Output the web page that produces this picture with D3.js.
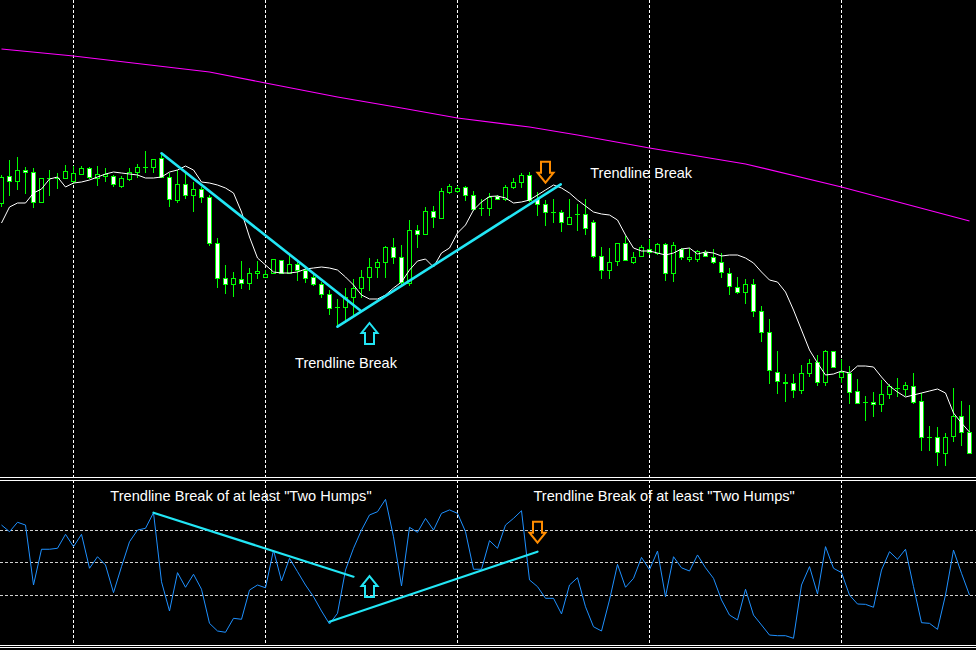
<!DOCTYPE html>
<html>
<head>
<meta charset="utf-8">
<script src="https://cdn.jsdelivr.net/npm/d3@7"></script>
<style>
html,body{margin:0;padding:0;background:#000;}
svg{display:block;}
</style>
</head>
<body>
<svg id="chart" width="976" height="650"></svg>
<script>
// ---- DATA ----
// candles: [open, high, low, close] (price points)
const candles = [
[297,325,294,323],[324,340,305,319],[319,343,311,330],[330,333,307,328],[328,332,293,298],
[298,322,298,322],[322,330,305,322],[322,327,312,322],[322,335,322,329],[319,334,317,327],
[326,334,326,332],[332,333,322,323],[322,334,315,326],[324,332,319,326],[324,325,314,316],
[314,324,313,322],[321,332,320,328],[328,336,323,333],[333,349,328,333],[333,341,328,341],
[342,347,323,323],[323,327,294,301],[300,330,298,316],[316,328,302,305],[305,318,289,311],
[311,313,298,303],[303,305,255,257],[257,262,213,222],[222,235,207,216],[216,228,204,222],
[221,239,212,217],[217,232,211,227],[227,239,222,229],[223,230,223,226],[227,241,227,241],
[240,240,227,227],[227,245,227,236],[236,240,220,230],[230,233,218,222],[223,227,215,216],
[216,218,203,206],[206,210,186,192],[193,201,173,193],[193,212,178,203],[203,221,185,212],
[212,230,203,223],[223,242,210,233],[233,241,223,238],[238,254,223,253],[253,262,237,243],
[243,255,215,218],[217,280,215,270],[270,275,253,266],[266,293,266,289],[289,294,273,283],
[282,312,282,309],[308,316,307,314],[309,314,308,312],[313,314,300,305],[305,309,290,291],
[292,301,285,292],[292,307,285,303],[304,305,301,301],[301,315,300,313],[313,322,312,318],
[318,327,313,325],[325,328,299,300],[301,308,285,296],[296,300,275,288],[288,301,278,288],
[288,290,269,278],[276,301,276,283],[286,296,270,286],[286,301,266,272],[278,280,243,244],
[244,253,222,230],[230,252,222,238],[239,257,235,257],[257,264,240,240],[238,248,237,243],
[244,255,244,253],[251,261,246,248],[247,257,246,256],[256,257,220,227],[227,258,219,255],
[251,252,241,243],[241,252,239,243],[241,250,239,249],[248,250,244,244],[243,251,237,238],
[238,247,223,228],[227,232,206,214],[213,223,207,208],[208,221,197,216],[216,221,184,189],
[189,194,159,168],[168,181,117,130],[128,149,107,119],[118,126,99,117],[117,126,103,110],
[110,135,107,127],[127,141,124,137],[138,145,115,118],[118,150,115,149],[149,149,133,133],
[123,141,118,128],[127,134,97,108],[109,121,97,97],[98,104,80,98],[98,108,84,96],
[96,120,89,106],[106,116,102,114],[112,122,104,112],[111,118,105,115],[114,127,97,98],
[99,107,50,63],[63,74,50,63],[63,73,35,48],[47,67,35,63],[64,112,59,84],
[84,99,55,68],[68,95,47,47]
];

// short moving average (white), one value per candle
const maShort = [
277,293,297,297,307,311,321,323,313,317,318,320,323,326,328,327,326,325,322,322,
323,328,330,334,330,318,317,315,312,307,288,263,242,235,228,227,227,228,231,232,
233,232,230,223,215,205,201,201,205,212,218,230,239,241,233,247,252,267,275,290,
298,303.5,304,302,297,298,300,305,310,315,312,307,300,294,288,286,285,280,265,252,
249,249,247,245,247,251,252,246,248,247,244,245,245,242,237,228,220,218,208,190,
170,150,137,125,126,129,127,134,134,133,123,114,108,103,105,107,109,111,107,87,
77,68
];

// long moving average (magenta), sampled [candle index, value]
const maLong = [
[0,451],[9,444],[26,428],[33,417],[42,403],[50,392],[57,382],[66,373],[72,365],
[81,352],[93,336],[105,313],[121,279]
];

// oscillator (0-100), one value per candle
const osc = [
72.9,68.8,74.6,72.9,36.0,58.0,58.0,58.6,67.2,59.6,67.2,46.3,53.4,48.3,31.3,47.3,62.6,69.8,70.9,80.5,
38.0,20.0,43.6,34.6,42.6,33.4,12.4,7.7,6.9,15.5,14.9,32.9,36.0,34.3,57.5,38.5,52.4,44.2,36.0,28.8,
20.0,12.0,18.6,45.2,58.6,69.8,79.1,81.1,88.7,65.7,35.4,71.5,68.4,77.0,69.8,80.1,82.2,80.1,68.8,45.7,
45.7,63.3,58.6,72.9,77.0,81.7,39.1,35.0,27.8,27.8,18.2,36.0,40.5,22.6,10.3,7.7,26.8,48.7,34.6,40.1,
53.0,45.4,56.9,28.8,53.4,46.6,44.6,54.5,46.6,40.1,26.8,17.5,14.5,33.4,17.5,11.4,5.2,4.8,4.8,3.2,
36.0,47.3,30.5,59.6,46.3,43.6,29.8,24.3,24.1,22.3,45.2,56.5,51.8,58.0,35.0,12.8,12.4,8.7,29.8,57.5,
43.2,29.8
];

const oscLevels = [30, 50, 70];
const gridIdx = [9, 33, 57, 81, 105];

// trendlines [index0, value0, index1, value1]
const priceTrendlines = [[20, 346.7, 44.9, 189.3], [42, 173.3, 69.9, 315.7]];
const oscTrendlines = [[19, 80.5, 44, 41.1], [41, 13.4, 67, 56.5]];

// arrows: index, value at arrow start (tail for down, tip for up), direction
const priceArrows = [{i: 46, v: 177, dir: "up", color: "#22e6f5"}, {i: 68, v: 338.3, dir: "down", color: "#ff8c00"}];
const oscArrows = [{i: 46, v: 41.5, dir: "up", color: "#22e6f5"}, {i: 67, v: 75.0, dir: "down", color: "#ff8c00"}];

// labels
const priceLabels = [{i: 36.7, v: 132, text: "Trendline Break"}, {i: 73.6, v: 322, text: "Trendline Break"}];
const oscLabels = [{i: 13.6, v: 87.4, text: "Trendline Break of at least \"Two Humps\""}, {i: 66.5, v: 87.4, text: "Trendline Break of at least \"Two Humps\""}];

// ---- DRAW ----
const svg = d3.select("#chart");
const W = 976, H = 650;
const upperBottom = 477, lowerTop = 480, lowerBottom = 645;

const x = d3.scaleLinear().domain([0, candles.length - 1]).range([1.5, 1.5 + 8 * (candles.length - 1)]);
const y = d3.scaleLinear().domain([0, 500]).range([500, 0]);
const yo = d3.scaleLinear().domain([0, 100]).range([643.5, 481]);

svg.append("rect").attr("width", W).attr("height", H).attr("fill", "#000");

const defs = svg.append("defs");
defs.append("clipPath").attr("id", "clipUp").append("rect").attr("x", 0).attr("y", 0).attr("width", W).attr("height", upperBottom);
defs.append("clipPath").attr("id", "clipLo").append("rect").attr("x", 0).attr("y", lowerTop + 1).attr("width", W).attr("height", lowerBottom - lowerTop - 1);

// vertical grid
svg.append("g").selectAll("line").data(gridIdx).join("line")
  .attr("x1", d => x(d)).attr("x2", d => x(d))
  .attr("y1", 0).attr("y2", lowerBottom)
  .attr("stroke", "#ffffff").attr("stroke-width", 1)
  .attr("stroke-dasharray", "3,2").attr("shape-rendering", "crispEdges");

// oscillator levels
svg.append("g").selectAll("line").data(oscLevels).join("line")
  .attr("x1", 0).attr("x2", W)
  .attr("y1", d => Math.round(yo(d)) + 0.5).attr("y2", d => Math.round(yo(d)) + 0.5)
  .attr("stroke", "#d0d0d0").attr("stroke-width", 1)
  .attr("stroke-dasharray", "3,2").attr("shape-rendering", "crispEdges");

// separators
[upperBottom + 0.5, lowerTop + 0.5, lowerBottom + 0.5, lowerBottom + 2.5].forEach(yy => {
  svg.append("line").attr("x1", 0).attr("x2", W).attr("y1", yy).attr("y2", yy)
    .attr("stroke", "#fff").attr("stroke-width", 1).attr("shape-rendering", "crispEdges");
});

const up = svg.append("g").attr("clip-path", "url(#clipUp)");
const lo = svg.append("g").attr("clip-path", "url(#clipLo)");

// long MA
up.append("path").datum(maLong)
  .attr("d", d3.line().x(d => x(d[0])).y(d => y(d[1])))
  .attr("fill", "none").attr("stroke", "#ff00ff").attr("stroke-width", 1.2);

// candles
const cg = up.append("g").attr("shape-rendering", "crispEdges");
const cd = candles.map((c, i) => ({i, o: c[0], h: c[1], l: c[2], c: c[3]}));
cg.selectAll("line.wick").data(cd).join("line").attr("class", "wick")
  .attr("x1", d => x(d.i)).attr("x2", d => x(d.i))
  .attr("y1", d => Math.round(y(d.h))).attr("y2", d => Math.round(y(d.l)) + 1)
  .attr("stroke", "#00ff00").attr("stroke-width", 1);
cg.selectAll("rect.body").data(cd).join("rect").attr("class", "body")
  .attr("x", d => x(d.i) - 2)
  .attr("y", d => Math.round(y(Math.max(d.o, d.c))) + 0.5)
  .attr("width", 4)
  .attr("height", d => Math.max(0.01, Math.round(y(Math.min(d.o, d.c))) - Math.round(y(Math.max(d.o, d.c)))))
  .attr("fill", d => d.c < d.o ? "#ffffff" : "#000000")
  .attr("stroke", "#00ff00").attr("stroke-width", 1);
// doji ticks
cg.selectAll("line.doji").data(cd.filter(d => Math.abs(d.o - d.c) < 1)).join("line").attr("class", "doji")
  .attr("x1", d => x(d.i) - 2.5).attr("x2", d => x(d.i) + 2.5)
  .attr("y1", d => Math.round(y(d.o)) + 0.5).attr("y2", d => Math.round(y(d.o)) + 0.5)
  .attr("stroke", "#00ff00").attr("stroke-width", 1);

// short MA
up.append("path").datum(maShort)
  .attr("d", d3.line().x((d, i) => x(i)).y(d => y(d)))
  .attr("fill", "none").attr("stroke", "#ffffff").attr("stroke-width", 1);

// price trendlines
up.selectAll("line.tl").data(priceTrendlines).join("line").attr("class", "tl")
  .attr("x1", d => x(d[0])).attr("y1", d => y(d[1]))
  .attr("x2", d => x(d[2])).attr("y2", d => y(d[3]))
  .attr("stroke", "#22e6f5").attr("stroke-width", 2.6).attr("stroke-linecap", "round");

// oscillator line
lo.append("path").datum(osc)
  .attr("d", d3.line().x((d, i) => x(i)).y(d => yo(d)))
  .attr("fill", "none").attr("stroke", "#1e90ff").attr("stroke-width", 1);

lo.selectAll("line.tl").data(oscTrendlines).join("line").attr("class", "tl")
  .attr("x1", d => x(d[0])).attr("y1", d => yo(d[1]))
  .attr("x2", d => x(d[2])).attr("y2", d => yo(d[3]))
  .attr("stroke", "#22e6f5").attr("stroke-width", 2.2).attr("stroke-linecap", "round");

// arrows
function arrowPath(cx, y0, dir) {
  const hw = 8, sw = 4.5, hh = 10, tot = 21;
  if (dir === "up") {
    return `M${cx},${y0} L${cx + hw},${y0 + hh} L${cx + sw},${y0 + hh} L${cx + sw},${y0 + tot} L${cx - sw},${y0 + tot} L${cx - sw},${y0 + hh} L${cx - hw},${y0 + hh} Z`;
  }
  return `M${cx - sw},${y0} L${cx + sw},${y0} L${cx + sw},${y0 + tot - hh} L${cx + hw},${y0 + tot - hh} L${cx},${y0 + tot} L${cx - hw},${y0 + tot - hh} L${cx - sw},${y0 + tot - hh} Z`;
}
up.selectAll("path.arrow").data(priceArrows).join("path").attr("class", "arrow")
  .attr("d", d => arrowPath(x(d.i), y(d.v), d.dir))
  .attr("fill", "none").attr("stroke", d => d.color).attr("stroke-width", 2).attr("stroke-linejoin", "miter");
lo.selectAll("path.arrow").data(oscArrows).join("path").attr("class", "arrow")
  .attr("d", d => arrowPath(x(d.i), yo(d.v), d.dir))
  .attr("fill", "none").attr("stroke", d => d.color).attr("stroke-width", 2).attr("stroke-linejoin", "miter");

// labels
const font = "Arial, 'Liberation Sans', sans-serif";
up.selectAll("text").data(priceLabels).join("text")
  .attr("x", d => x(d.i)).attr("y", d => y(d.v))
  .attr("fill", "#fff").attr("font-family", font).attr("font-size", 14.5)
  .text(d => d.text);
lo.selectAll("text").data(oscLabels).join("text")
  .attr("x", d => x(d.i)).attr("y", d => yo(d.v))
  .attr("fill", "#fff").attr("font-family", font).attr("font-size", 14.6)
  .text(d => d.text);
</script>
</body>
</html>
